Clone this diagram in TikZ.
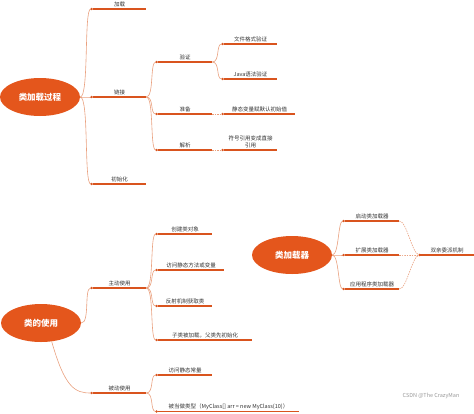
\documentclass[tikz,border=0pt]{standalone}
\usepackage{fontspec}
\setmainfont{Noto Sans CJK SC}
\usepackage{tikz}
\usetikzlibrary{shapes.geometric,arrows.meta}

\definecolor{rootorange}{HTML}{E4561C}
\definecolor{lineorange}{HTML}{D9541E}
\definecolor{lightorange}{HTML}{E9A07E}

\tikzset{
	root/.style={ellipse, fill=rootorange, text=white, minimum width=80pt, minimum height=38pt, inner sep=0pt,
		font=\bfseries\fontsize{8.5}{10}\selectfont},
	topic/.style={anchor=south, inner xsep=0pt, inner ysep=2pt, text=black!80, align=center,
		font=\fontsize{5.5}{6.5}\selectfont,
		append after command={(\tikzlastnode.south west) edge[uline] (\tikzlastnode.south east)}},
	uline/.style={draw=lineorange, line width=1.8pt},
	branch/.style={draw=lightorange, line width=0.6pt, -{Circle[length=2.4pt,color=lineorange]}},
	faint/.style={branch, dashed, dash pattern=on 1.5pt off 1pt}
}

\begin{document}
\begin{tikzpicture}[x=1pt,y=-1pt]
			\useasboundingbox (0,0) rectangle (474,413);
			%Class loading process
			\node[root] (guocheng) at (40,97) {类加载过程};
			\node[topic, minimum width=53pt] (jiazai) at (119.5,9) {加载};
			\node[topic, minimum width=53pt] (lianjie) at (119.5,97) {链接};
			\node[topic, minimum width=53pt] (chushihua) at (119.5,184) {初始化};
			\node[topic, minimum width=54pt] (yanzheng) at (185,62) {验证};
			\node[topic, minimum width=54pt] (zhunbei) at (185,114) {准备};
			\node[topic, minimum width=54pt] (jiexi) at (185,150) {解析};
			\node[topic, minimum width=53pt] (geshi) at (250.5,44) {文件格式验证};
			\node[topic, minimum width=53pt] (yufa) at (250.5,79) {Java语法验证};
			\node[topic, minimum width=71pt] (moren) at (259.5,114) {静态变量赋默认初始值};
			\node[topic, minimum width=53pt] (zhijie) at (250.5,150) {符号引用变成直接\\引用};
			\foreach \t in {jiazai,lianjie,chushihua}
			{\draw[branch] (guocheng.east) .. controls +(9,0) and +(-9,0) .. (\t.south west);}
			\foreach \t in {yanzheng,zhunbei,jiexi}
			{\draw[branch] (lianjie.south east) .. controls +(8,0) and +(-8,0) .. (\t.south west);}
			\foreach \t in {geshi,yufa}
			{\draw[branch] (yanzheng.south east) .. controls +(8,0) and +(-8,0) .. (\t.south west);}
			\draw[faint] (zhunbei.south east) -- (moren.south west);
			\draw[faint] (jiexi.south east) -- (zhijie.south west);
			%Class usage
			\node[root] (shiyong) at (41,323) {类的使用};
			\node[topic, minimum width=53pt] (zhudong) at (119.5,288) {主动使用};
			\node[topic, minimum width=53pt] (beidong) at (119.5,393) {被动使用};
			\node[topic, minimum width=54pt] (duixiang) at (185,234) {创建类对象};
			\node[topic, minimum width=66pt] (fangfa) at (191,270) {访问静态方法或变量};
			\node[topic, minimum width=54pt] (fanshe) at (185,306) {反射机制获取类};
			\node[topic, minimum width=94pt] (zilei) at (205,340) {子类被加载，父类先初始化};
			\node[topic, minimum width=54pt] (changliang) at (185,375) {访问静态常量};
			\node[topic, minimum width=141pt] (shuzu) at (228.5,411.5) {被当做类型（MyClass[] arr = new MyClass(10)）};
			\draw[branch] (shiyong.east) .. controls +(9,0) and +(-9,0) .. (zhudong.south west);
			\draw[branch] (shiyong.-60) .. controls (65,388) and (75,393) .. (beidong.south west);
			\foreach \t in {duixiang,fangfa,fanshe,zilei}
			{\draw[branch] (zhudong.south east) .. controls +(8,0) and +(-8,0) .. (\t.south west);}
			\foreach \t in {changliang,shuzu}
			{\draw[branch] (beidong.south east) .. controls +(8,0) and +(-8,0) .. (\t.south west);}
			%Class loaders
			\node[root] (jiazaiqi) at (292,255) {类加载器};
			\node[topic, minimum width=54pt] (qidong) at (372,221) {启动类加载器};
			\node[topic, minimum width=54pt] (kuozhan) at (372,255) {扩展类加载器};
			\node[topic, minimum width=54pt] (yingyong) at (372,289) {应用程序类加载器};
			\node[topic, minimum width=54pt] (shuangqin) at (447,255) {双亲委派机制};
			\foreach \t in {qidong,kuozhan,yingyong}
			{\draw[branch] (jiazaiqi.east) .. controls +(7,0) and +(-7,0) .. (\t.south west);
				\draw[faint, -] (\t.south east) .. controls +(8,0) and +(-8,0) .. (shuangqin.south west);}
			\fill[lineorange] (shuangqin.south west) circle (1.4);
			%Watermark
			\node[text=black!40, font=\fontsize{5.5}{6.5}\selectfont] (csdn) at (431,396) {CSDN @The CrazyMan};
\end{tikzpicture}
\end{document}
